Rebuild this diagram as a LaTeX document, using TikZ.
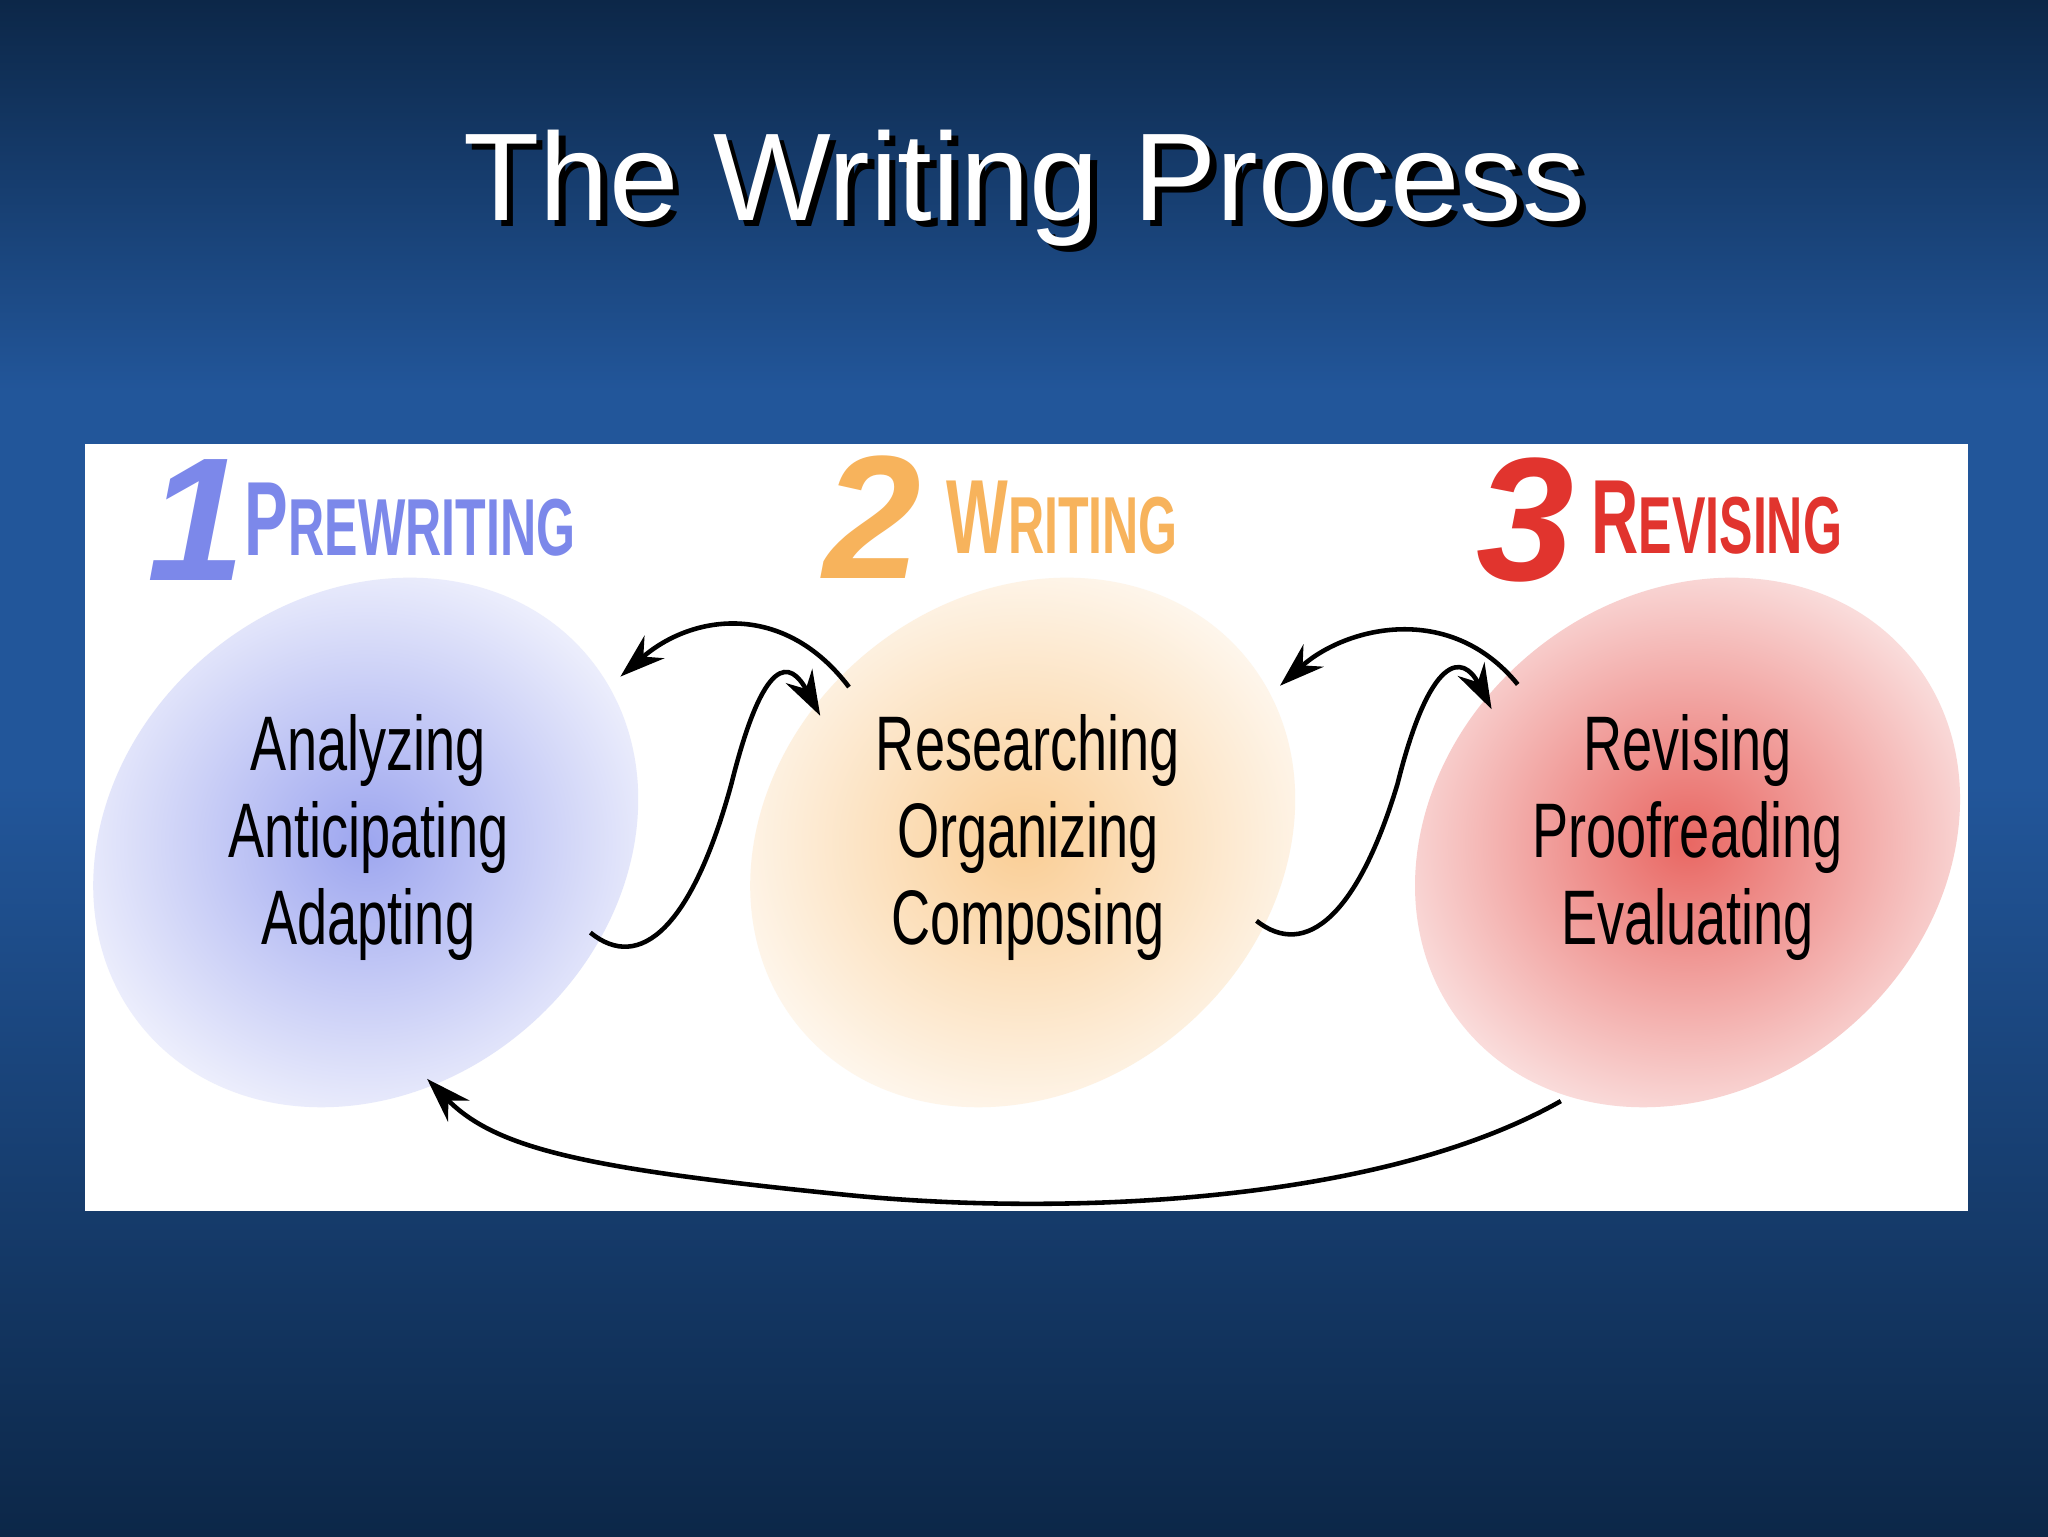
\documentclass[tikz,border=0pt]{standalone}
\usepackage{fontspec}
\setmainfont{Liberation Sans}
\usetikzlibrary{arrows.meta,positioning,calc}
\definecolor{bgdark}{HTML}{0C2748}
\definecolor{bgmid}{HTML}{22569A}
\definecolor{pblue}{HTML}{7C88EA}
\definecolor{porange}{HTML}{F7B35C}
\definecolor{pred}{HTML}{E1342E}
\newcommand{\cond}[1]{\scalebox{0.70}[1]{\begin{tabular}{@{}c@{}}#1\end{tabular}}}
\newcommand{\headcaps}[2]{\scalebox{0.62}[1]{\bfseries\fontsize{30}{30}\selectfont #1\fontsize{23}{23}\selectfont #2}}
\begin{document}
\begin{tikzpicture}[x=0.1306mm,y=-0.1306mm]
  \tikzstyle{body}=[font=\fontsize{22}{24.8}\selectfont, inner sep=0pt]
  \tikzstyle{num}=[font=\bfseries\itshape\fontsize{50}{50}\selectfont, inner sep=0pt]
  \tikzstyle{flow}=[line width=1.3pt, -{Stealth[length=4.5mm,width=3mm]}]

  % Hintergrund
  \useasboundingbox (0,0) rectangle (1568,1176);
  \shade[top color=bgdark, bottom color=bgmid, middle color=bgmid] (0,0) rectangle (1568,600);
  \shade[top color=bgmid, bottom color=bgdark] (0,600) rectangle (1568,1176);

  % Titel
  \node[font=\fontsize{35.5}{36}\selectfont, text=black] (shadow) at (789,149) {The Writing Process};
  \node[font=\fontsize{35.5}{36}\selectfont, text=white] (title) at (784,144) {The Writing Process};

  % Tafel
  \fill[white] (65,340) rectangle (1507,927);

  % Ellipsen
  \shade[inner color=pblue!75, outer color=pblue!12, rotate around={40:(280,645)}] (280,645) ellipse (222 and 188);
  \shade[inner color=porange!65, outer color=porange!10, rotate around={40:(783,645)}] (783,645) ellipse (222 and 188);
  \shade[inner color=pred!75, outer color=pred!15, rotate around={40:(1292,645)}] (1292,645) ellipse (222 and 188);

  % Kopfzeilen
  \node[num, text=pblue] (n1) at (150,398) {1};
  \node[text=pblue, anchor=west, inner sep=0pt] (h1) at (187,398) {\headcaps{P}{REWRITING}};
  \node[num, text=porange] (n2) at (668,396) {2};
  \node[text=porange, anchor=west, inner sep=0pt] (h2) at (724,396) {\headcaps{W}{RITING}};
  \node[num, text=pred] (n3) at (1168,398) {3};
  \node[text=pred, anchor=west, inner sep=0pt] (h3) at (1218,396) {\headcaps{R}{EVISING}};

  % Texte
  \node[body] (pre) at (282,643) {\cond{Analyzing\\Anticipating\\Adapting}};
  \node[body] (wri) at (787,643) {\cond{Researching\\Organizing\\Composing}};
  \node[body] (rev) at (1292,643) {\cond{Revising\\Proofreading\\Evaluating}};

  % Anschlusspunkte
  \coordinate (a1s) at (650,526);  \coordinate (a1e) at (475,518);
  \coordinate (b1s) at (452,714);  \coordinate (b1e) at (628,548);
  \coordinate (a2s) at (1162,524); \coordinate (a2e) at (980,525);
  \coordinate (b2s) at (962,705);  \coordinate (b2e) at (1142,543);
  \coordinate (cs) at (1195,843);  \coordinate (ce) at (327,826);

  % Pfeile
  \draw[flow] (a1s) .. controls (600,460) and (530,470) .. (a1e);
  \draw[flow] (b1s) .. controls (490,745) and (530,710) .. (560,600) .. controls (585,500) and (605,505) .. (b1e);
  \draw[flow] (a2s) .. controls (1110,460) and (1030,480) .. (a2e);
  \draw[flow] (b2s) .. controls (1000,735) and (1040,700) .. (1070,600) .. controls (1095,500) and (1120,500) .. (b2e);
  \draw[flow] (cs) .. controls (1050,925) and (800,930) .. (650,915) .. controls (450,895) and (380,880) .. (ce);
\end{tikzpicture}
\end{document}
